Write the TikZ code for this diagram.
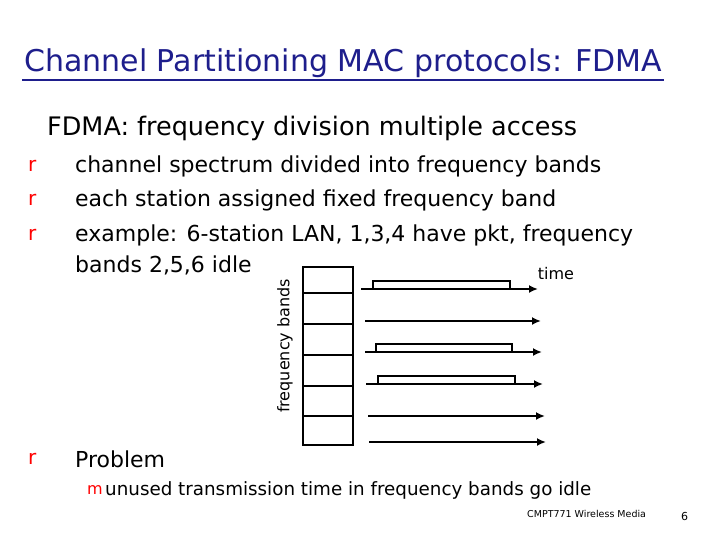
\documentclass[tikz,border=0pt]{standalone}
\usepackage{fontspec}
\setmainfont{DejaVu Sans}
\usetikzlibrary{arrows.meta}
\definecolor{titleblue}{RGB}{30,30,140}
\tikzset{
 txt/.style={anchor=west,inner sep=0pt,font=\fontsize{22}{26}\selectfont},
 bul/.style={anchor=west,inner sep=0pt,text=red,font=\fontsize{20}{24}\selectfont},
 arr/.style={line width=2.2pt,-{Latex[length=9pt,width=8pt]}},
 pk/.style={draw,line width=2.2pt}
}
\begin{document}
\begin{tikzpicture}[x=1pt,y=-1pt]
\useasboundingbox (0,0) rectangle (720,540);
\node[anchor=west,inner sep=0pt,text=titleblue,font=\fontsize{30}{34}\selectfont] (title) at (24,63) {Channel Partitioning MAC protocols: FDMA};
\coordinate (t1) at (22,80); \coordinate (t2) at (664,80);
\draw[titleblue,line width=1.5pt] (t1) -- (t2);
\node[txt,font=\fontsize{25.5}{28}\selectfont] (h) at (47,128) {FDMA: frequency division multiple access};
\node[bul] (b1) at (28,166) {r}; \node[txt] (l1) at (75,166) {channel spectrum divided into frequency bands};
\node[bul] (b2) at (28,200) {r}; \node[txt] (l2) at (75,200) {each station assigned fixed frequency band};
\node[bul] (b3) at (28,235) {r}; \node[txt] (l3) at (75,235) {example: 6-station LAN, 1,3,4 have pkt, frequency};
\node[txt] (l4) at (75,265) {bands 2,5,6 idle};
\node[bul] (b5) at (28,459) {r}; \node[txt] (l5) at (75,459) {Problem};
\node[bul,font=\fontsize{16}{18}\selectfont] (b6) at (87,490) {m};
\node[txt,font=\fontsize{18.3}{22}\selectfont] (l6) at (105,490) {unused transmission time in frequency bands go idle};
\node[txt,font=\fontsize{9.5}{11}\selectfont] (foot) at (527,514) {CMPT771 Wireless Media};
\node[txt,font=\fontsize{11}{13}\selectfont] (pg) at (681,516) {6};
\node[draw,line width=2.5pt,minimum width=50pt,minimum height=178pt,inner sep=0pt] (col) at (328,356) {};
\foreach \y in {293,324,355,386,416} \draw[line width=1.8pt] (303,\y) -- (353,\y);
\node[rotate=90,inner sep=0pt,font=\fontsize{16}{18}\selectfont] (fb) at (285,346) {frequency bands};
\node[inner sep=0pt,font=\fontsize{16}{18}\selectfont] (time) at (556,274) {time};
\coordinate (a1) at (361,289); \coordinate (e1) at (538,289);
\coordinate (a2) at (365,321); \coordinate (e2) at (541,321);
\coordinate (a3) at (365,352); \coordinate (e3) at (542,352);
\coordinate (a4) at (366,384); \coordinate (e4) at (543,384);
\coordinate (a5) at (368,416); \coordinate (e5) at (545,416);
\coordinate (a6) at (369,442); \coordinate (e6) at (546,442);
\foreach \i in {1,...,6} \draw[arr] (a\i) -- (e\i);
\draw[pk] (373,289) -- (373,281) -- (510,281) -- (510,289);
\draw[pk] (376,352) -- (376,344) -- (512,344) -- (512,352);
\draw[pk] (378,384) -- (378,376) -- (515,376) -- (515,384);
\end{tikzpicture}
\end{document}
